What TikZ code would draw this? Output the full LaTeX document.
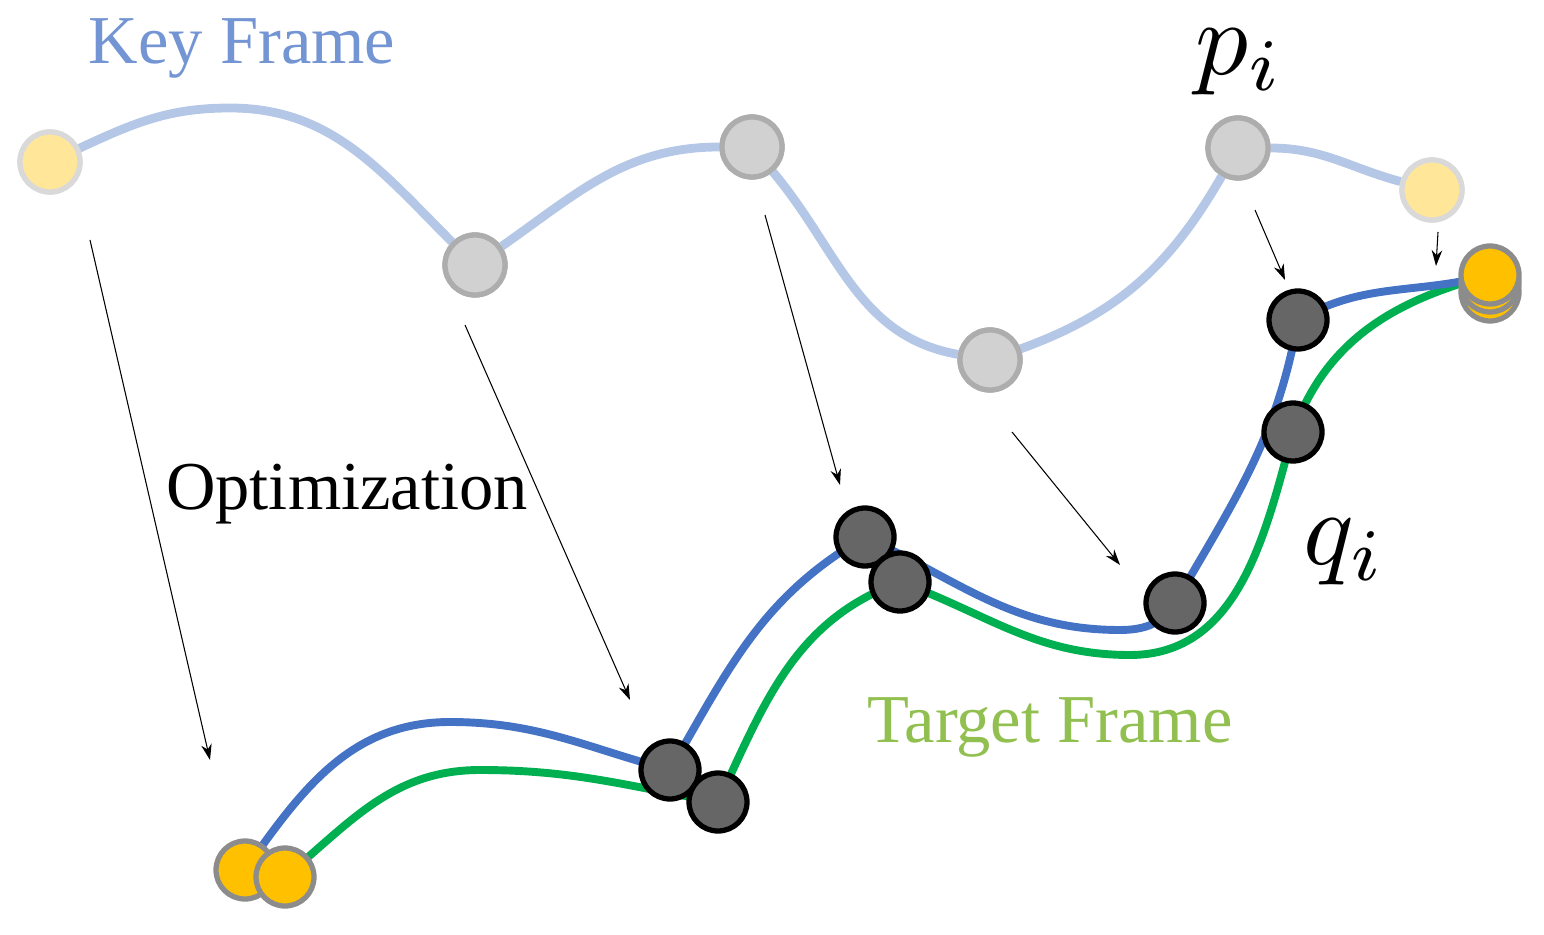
\documentclass[tikz,border=0pt]{standalone}
\usepackage{fontspec}
\setmainfont{Liberation Serif}
\usetikzlibrary{arrows.meta}
\definecolor{keyln}{HTML}{B4C7E7}
\definecolor{bluet}{HTML}{4472C4}
\definecolor{greent}{HTML}{00B050}
\definecolor{tfcol}{HTML}{92C050}
\definecolor{gold}{HTML}{FFC000}
\begin{document}
\begin{tikzpicture}[x=0.02cm,y=-0.02cm,
  keyg/.style={circle,minimum size=60*0.02cm,inner sep=0,fill=black!18,draw=black!32,line width=3pt},
  keyy/.style={circle,minimum size=60*0.02cm,inner sep=0,fill=gold!40,draw=black!15,line width=3pt},
  tgt/.style={circle,minimum size=58*0.02cm,inner sep=0,fill=black!60,draw=black,line width=3pt},
  tgy/.style={circle,minimum size=58*0.02cm,inner sep=0,fill=gold,draw=black!45,line width=3pt},
  arr/.style={-{Stealth[length=9pt,width=6pt]},line width=0.6pt},
  lbl/.style={font=\fontsize{39}{41}\selectfont,inner sep=0}]
\useasboundingbox (0,0) rectangle (1544,935);
% key frame
\coordinate (kp) at (230,108);
\node[keyy] (k1) at (50,162) {};
\node[keyg] (k2) at (475,265) {};
\node[keyg] (k3) at (752,147) {};
\node[keyg] (k4) at (990,360) {};
\node[keyg] (k5) at (1238,148) {};
\node[keyy] (k6) at (1432,190) {};
\draw[keyln,line width=5pt] (k1) to[out=25,in=180] (kp) to[out=0,in=135] (k2)
  to[out=35,in=180] (k3) to[out=-50,in=170] (k4) to[out=20,in=-120] (k5) to[out=0,in=165] (k6);
\node[keyy] at (50,162) {};
\node[keyg] at (475,265) {};
\node[keyg] at (752,147) {};
\node[keyg] at (990,360) {};
\node[keyg] at (1238,148) {};
\node[keyy] at (1432,190) {};
% target coordinates
\coordinate (y1) at (245,870);
\coordinate (y2) at (285,877);
\coordinate (yt) at (1490,275);
\coordinate (b1) at (670,770);
\coordinate (g2) at (718,802);
\coordinate (b3) at (865,537);
\coordinate (g4) at (900,582);
\coordinate (b5) at (1175,603);
\coordinate (b7) at (1298,320);
\coordinate (g7) at (1293,432);
\coordinate (bp) at (450,722);
\coordinate (gp) at (480,770);
\coordinate (gv) at (1130,655);
\draw[greent,line width=4.5pt] (y2) to[out=40,in=180] (gp) to[out=0,in=170] (g2)
  to[out=65,in=-160] (g4) to[out=-20,in=180] (gv) to[out=0,in=-105] (g7) to[out=70,in=195] (yt);
\draw[bluet,line width=4.5pt] (y1) to[out=55,in=180] (bp) to[out=0,in=165] (b1)
  to[out=60,in=-150] (b3) to[out=-25,in=180] (1120,630) to[out=0,in=-120] (b5)
  to[out=60,in=-100] (b7) to[out=30,in=195] (yt);
\node[tgy] (ty1) at (y1) {};
\node[tgy] (ty2) at (y2) {};
\node[tgy] (tyb) at (1490,292) {};
\node[tgy] (tya) at (1490,283) {};
\node[tgy] (tyt) at (yt) {};
\node[tgt] (n1) at (b1) {};
\node[tgt] (n2) at (g2) {};
\node[tgt] (n3) at (b3) {};
\node[tgt] (n4) at (g4) {};
\node[tgt] (n5) at (b5) {};
\node[tgt] (n7) at (g7) {};
\node[tgt] (n6) at (b7) {};
% arrows
\coordinate (a1s) at (90,240); \coordinate (a1e) at (210,760);
\coordinate (a2s) at (465,325); \coordinate (a2e) at (630,700);
\coordinate (a3s) at (765,215); \coordinate (a3e) at (840,485);
\coordinate (a4s) at (1012,432); \coordinate (a4e) at (1120,565);
\coordinate (a5s) at (1255,210); \coordinate (a5e) at (1285,280);
\coordinate (a6s) at (1438,232); \coordinate (a6e) at (1436,266);
\draw[arr] (a1s) -- (a1e);
\draw[arr] (a2s) -- (a2e);
\draw[arr] (a3s) -- (a3e);
\draw[arr] (a4s) -- (a4e);
\draw[arr] (a5s) -- (a5e);
\draw[arr] (a6s) -- (a6e);
% labels
\node[lbl,text=bluet!75] (tk) at (242,48) {Key Frame};
\node[lbl] (to) at (347,494) {Optimization};
\node[lbl,text=tfcol] (tt) at (1050,727) {Target Frame};
\node[inner sep=0] (tp) at (1240,62) {\scalebox{6}{$p_i$}};
\node[inner sep=0] (tq) at (1345,552) {\scalebox{6}{$q_i$}};
\end{tikzpicture}
\end{document}
